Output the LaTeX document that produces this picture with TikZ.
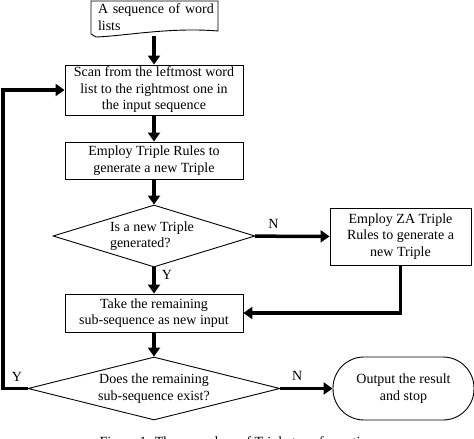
\documentclass[tikz,border=0pt]{standalone}
\usepackage{fontspec}
\setmainfont{Liberation Serif}
\usetikzlibrary{arrows.meta,shapes.geometric}
\tikzset{
  box/.style={draw, line width=0.9pt, align=center, inner sep=0pt, font=\fontsize{14}{16.5}\selectfont},
  dec/.style={draw, diamond, line width=0.9pt, inner sep=0pt, font=\fontsize{14}{16.5}\selectfont},
  flow/.style={-{Triangle[length=9pt,width=12pt]}, line width=3.5pt},
  lbl/.style={font=\fontsize{14}{16.5}\selectfont, inner sep=0pt},
}

\begin{document}
\begin{tikzpicture}[x=1pt, y=-1pt]
    \useasboundingbox (0,0) rectangle (474,439);
    % input document (straight top, wavy bottom)
    \node[lbl, align=left, text width=118pt] (doc) at (157,17) {A sequence of word\\lists};
    \draw[line width=0.9pt] (91,34) -- (91,1) -- (218,1) -- (218,31)
      .. controls (170,27) and (125,36) .. (96,37) -- cycle;
    \coordinate (docb) at (154,36);
    \node[box, minimum width=178pt, minimum height=50pt] (scan) at (154,90)
      {Scan from the leftmost word\\list to the rightmost one in\\the input sequence};
    \node[box, minimum width=178pt, minimum height=37pt] (rules) at (154,160.5)
      {Employ Triple Rules to\\generate a new Triple};
    \node[dec, aspect=3.3, minimum width=202pt, minimum height=62pt] (gen) at (154,236)
      {\parbox{88pt}{\raggedright Is a new Triple\\generated?}};
    \node[box, minimum width=141pt, minimum height=57pt] (za) at (400.5,236.5)
      {Employ ZA Triple\\Rules to generate a\\new Triple};
    \node[box, minimum width=178pt, minimum height=38pt] (take) at (154,313)
      {Take the remaining\\sub-sequence as new input};
    \node[dec, aspect=4, minimum width=252pt, minimum height=63pt] (exist) at (154,388.5)
      {\parbox{120pt}{\centering Does the remaining\\sub-sequence exist?}};
    \node[box, rounded corners=31pt, minimum width=141pt, minimum height=63pt] (stop) at (403.5,388.5)
      {Output the result\\and stop};
    \coordinate (loop) at (3,388.5);
    % connectors
    \draw[flow] (docb) -- (scan);
    \draw[flow] (scan) -- (rules);
    \draw[flow] (rules) -- (gen);
    \draw[flow] (gen) -- node[lbl, pos=0.25, above=6pt] (n1) {N} (za);
    \draw[flow] (gen) -- node[lbl, pos=0.3, right=6pt] (y1) {Y} (take);
    \draw[flow] (za.south) |- (take.east);
    \draw[flow] (take) -- (exist);
    \draw[flow] (exist) -- node[lbl, pos=0.32, above=6pt] (n2) {N} (stop);
    \draw[flow] (exist.west) -- (loop) |- (scan.west);
    \node[lbl, anchor=south] (y2) at (17,382) {Y};
    % caption (cut off by the page)
    \node[lbl, anchor=base] (cap) at (237,446) {Figure 1. The procedure of Triple transformation};
\end{tikzpicture}
\end{document}
